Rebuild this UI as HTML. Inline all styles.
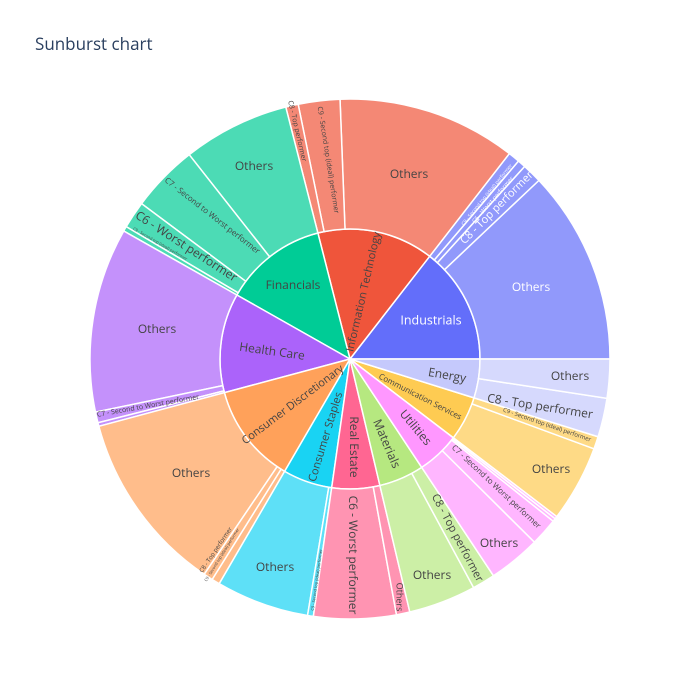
<!DOCTYPE html>
<html><head><meta charset="utf-8"><style>
body{margin:0;background:#fff;}
svg{display:block;font-family:"Open Sans","Liberation Sans",sans-serif;}
</style></head><body>
<svg id="s" width="700" height="700" viewBox="0 0 700 700">
<text x="35" y="50" font-size="17" fill="#2a3f5f">Sunburst chart</text>
<g id="seg"></g>
<g fill="#444" text-anchor="middle" dominant-baseline="middle">
<text x="431" y="321" font-size="12.5" fill="#fff">Industrials</text>
<text x="364" y="292" font-size="11" transform="rotate(-77 364 292)">Information Technology</text>
<text x="293" y="286" font-size="12">Financials</text>
<text x="272" y="352" font-size="12" transform="rotate(8 272 352)">Health Care</text>
<text x="293" y="405" font-size="11" transform="rotate(-37 293 405)">Consumer Discretionary</text>
<text x="326" y="437" font-size="11" transform="rotate(-73 326 437)">Consumer Staples</text>
<text x="353" y="447" font-size="12" transform="rotate(90 353 447)">Real Estate</text>
<text x="386" y="444" font-size="12" transform="rotate(67 386 444)">Materials</text>
<text x="415" y="428" font-size="12" transform="rotate(50 415 428)">Utilities</text>
<text x="420" y="397" font-size="8" transform="rotate(27 420 397)">Communication Services</text>
<text x="447" y="376" font-size="12" transform="rotate(10 447 376)">Energy</text>

<text x="531" y="288" font-size="12" fill="#fff">Others</text>
<text x="497" y="208" font-size="11" fill="#fff" transform="rotate(-45 497 208)">C8 - Top performer</text>
<text x="493" y="200" font-size="6" fill="#fff" transform="rotate(-49 493 200)">C5 - Worst performer</text>
<text x="487" y="195" font-size="5" fill="#fff" transform="rotate(-51 487 195)">C9 - Second top (ideal) performer</text>
<text x="409" y="175" font-size="12">Others</text>
<text x="328" y="160" font-size="7" transform="rotate(81 328 160)">C9 - Second top (ideal) performer</text>
<text x="297" y="131" font-size="7" transform="rotate(77 297 131)">C8 - Top performer</text>
<text x="254" y="167" font-size="12">Others</text>
<text x="212" y="216" font-size="8" transform="rotate(38 212 216)">C7 - Second to Worst performer</text>
<text x="186" y="247" font-size="12" transform="rotate(33 186 247)">C6 - Worst performer</text>
<text x="160" y="244" font-size="4" transform="rotate(30 160 244)">C9 - Second top (ideal) performer</text>
<text x="157" y="330" font-size="12">Others</text>
<text x="148" y="406" font-size="7" transform="rotate(-10 148 406)">C7 - Second to Worst performer</text>
<text x="191" y="474" font-size="12">Others</text>
<text x="216" y="550" font-size="6" transform="rotate(-56 216 550)">C8 - Top performer</text>
<text x="222" y="555" font-size="4" transform="rotate(-58 222 555)">C9 - Second top (ideal) performer</text>
<text x="275" y="568" font-size="12">Others</text>
<text x="317" y="580" font-size="4" transform="rotate(-82 317 580)">C9 - Second top (ideal) performer</text>
<text x="352" y="555" font-size="12" transform="rotate(90 352 555)">C6 - Worst performer</text>
<text x="399" y="597" font-size="9" transform="rotate(90 399 597)">Others</text>
<text x="432" y="576" font-size="12">Others</text>
<text x="457" y="538" font-size="11" transform="rotate(62 457 538)">C8 - Top performer</text>
<text x="499" y="544" font-size="12">Others</text>
<text x="496" y="487" font-size="8" transform="rotate(43 496 487)">C7 - Second to Worst performer</text>
<text x="551" y="470" font-size="12">Others</text>
<text x="547" y="425" font-size="6" transform="rotate(19 547 425)">C9 - Second top (ideal) performer</text>
<text x="540" y="407" font-size="12" transform="rotate(9 540 407)">C8 - Top performer</text>
<text x="570" y="377" font-size="12">Others</text>
</g>
</svg>
<script>
var cx=350,cy=359,R1=130,R2=260;
var inner=[[0,52.2,"#636efa"],[52.2,104.3,"#EF553B"],[104.3,150.5,"#00cc96"],[150.5,195,"#ab63fa"],[195,239.8,"#FFA15A"],[239.8,261.9,"#19d3f3"],[261.9,283.3,"#FF6692"],[283.3,303.5,"#B6E880"],[303.5,322.7,"#FF97FF"],[322.7,342.6,"#FECB52"],[342.6,360,"#c5c9fc"]];
var outer=[[0,43.4,0],[43.4,47.8,0],[47.8,49.6,0],[49.6,52.2,0],
[52.2,92.2,1],[92.2,101.5,1],[101.5,104.3,1],
[104.3,128.2,2],[128.2,143.3,2],[143.3,149.4,2],[149.4,150.5,2],
[150.5,191.8,3],[191.8,194.2,3],[194.2,195,3],
[195,235.9,4],[235.9,238,4],[238,239.8,4],
[239.8,260.6,5],[260.6,261.9,5],
[261.9,280.3,6],[280.3,283.3,6],
[283.3,298.4,7],[298.4,303.5,7],
[303.5,315.2,8],[315.2,321.4,8],[321.4,322.1,8],[322.1,322.7,8],
[322.7,339.8,9],[339.8,342.6,9],
[342.6,351.3,10],[351.3,360,10]];
function P(r,a){a=a*Math.PI/180;return (cx+r*Math.cos(a)).toFixed(2)+","+(cy-r*Math.sin(a)).toFixed(2);}
function arc(r0,r1,a0,a1){var l=(a1-a0)>180?1:0;
if(r0==0)return "M"+cx+","+cy+"L"+P(r1,a0)+"A"+r1+","+r1+" 0 "+l+" 0 "+P(r1,a1)+"Z";
return "M"+P(r0,a0)+"L"+P(r1,a0)+"A"+r1+","+r1+" 0 "+l+" 0 "+P(r1,a1)+"L"+P(r0,a1)+"A"+r0+","+r0+" 0 "+l+" 1 "+P(r0,a0)+"Z";}
var g=document.getElementById("seg"),h="";
inner.forEach(function(s){h+='<path d="'+arc(0,R1,s[0],s[1])+'" fill="'+s[2]+'" stroke="#fff" stroke-width="1.5"/>';});
outer.forEach(function(s){h+='<path d="'+arc(R1,R2,s[0],s[1])+'" fill="'+inner[s[2]][2]+'" fill-opacity="0.7" stroke="#fff" stroke-width="1.5"/>';});
g.innerHTML=h;
</script>
</body></html>
